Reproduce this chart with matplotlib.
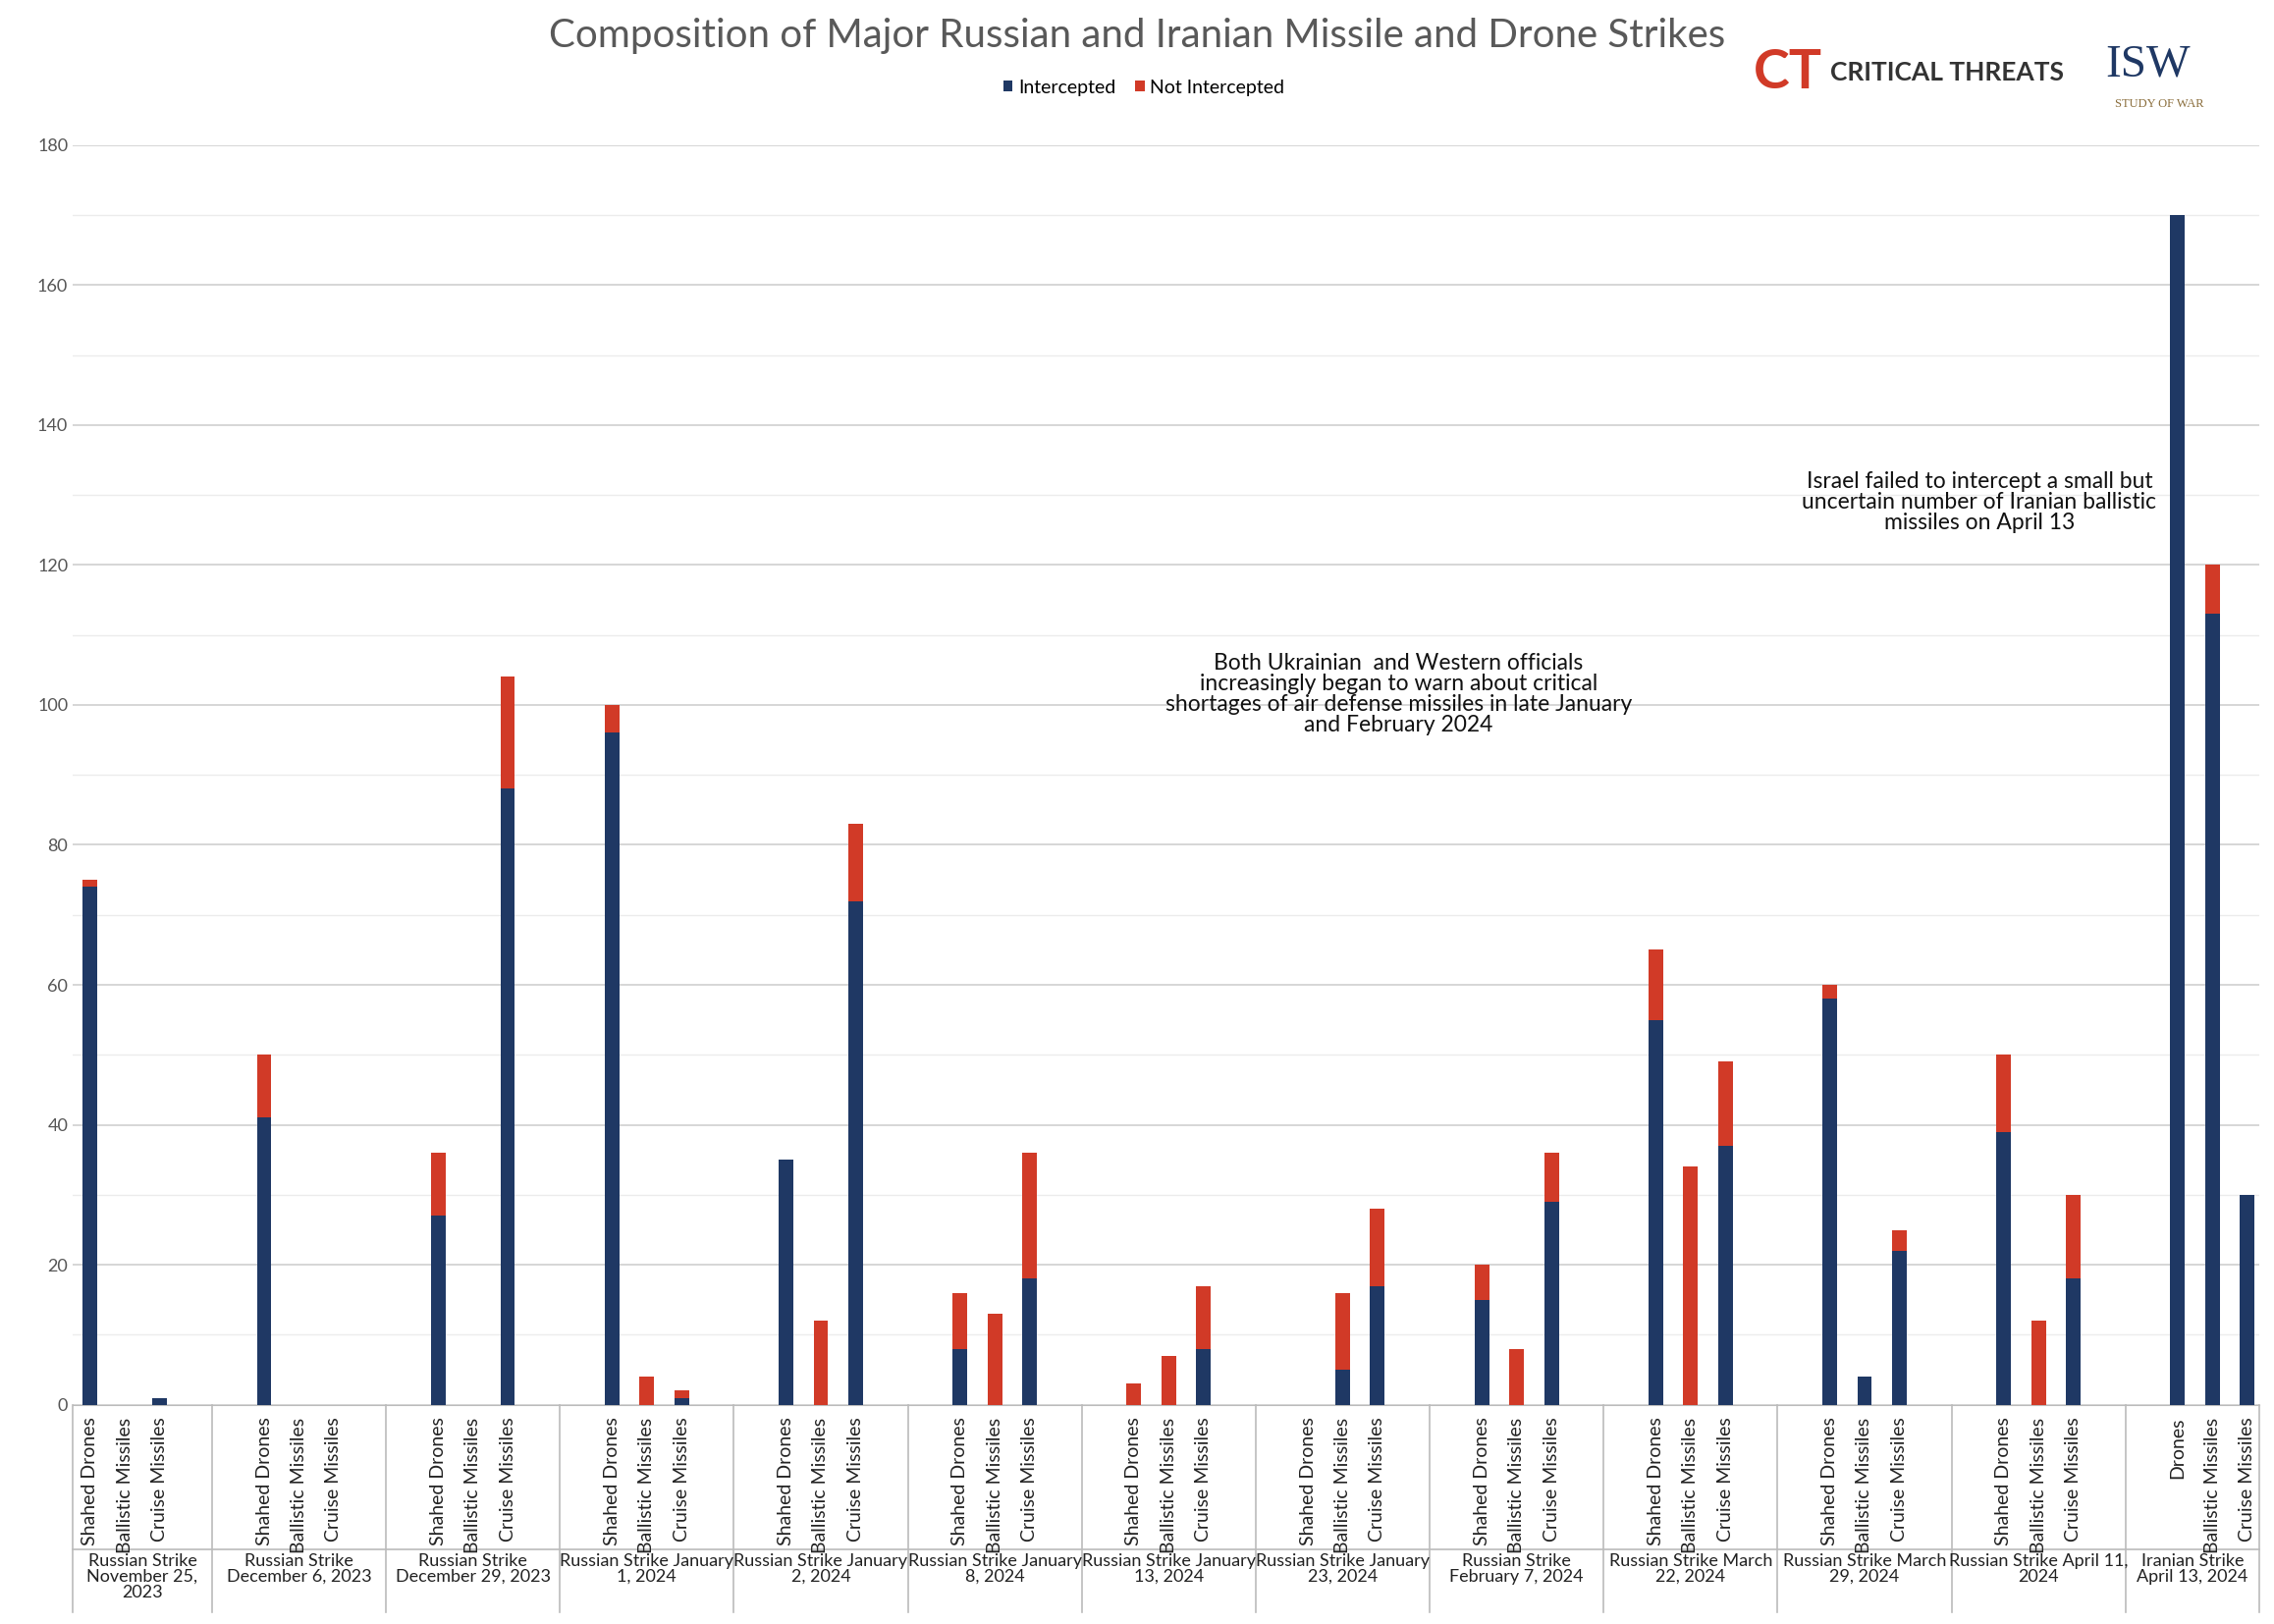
import matplotlib
matplotlib.use("Agg")
import matplotlib.pyplot as plt
from matplotlib.lines import Line2D

plt.rcParams["font.family"] = "Lato"

groups = ["Russian Strike\nNovember 25,\n2023", "Russian Strike\nDecember 6, 2023", "Russian Strike\nDecember 29, 2023",
          "Russian Strike January\n1, 2024", "Russian Strike January\n2, 2024", "Russian Strike January\n8, 2024",
          "Russian Strike January\n13, 2024", "Russian Strike January\n23, 2024", "Russian Strike\nFebruary 7, 2024",
          "Russian Strike March\n22, 2024", "Russian Strike March\n29, 2024", "Russian Strike April 11,\n2024",
          "Iranian Strike\nApril 13, 2024"]
weapons = ["Shahed Drones", "Ballistic Missiles", "Cruise Missiles"]
last_weapons = ["Drones", "Ballistic Missiles", "Cruise Missiles"]
intercepted = [[74, 0, 1], [41, 0, 0], [27, 0, 88], [96, 0, 1], [35, 0, 72], [8, 0, 18], [0, 0, 8],
               [0, 5, 17], [15, 0, 29], [55, 0, 37], [58, 4, 22], [39, 0, 18], [170, 113, 30]]
not_intercepted = [[1, 0, 0], [9, 0, 0], [9, 0, 16], [4, 4, 1], [0, 12, 11], [8, 13, 18], [3, 7, 9],
                   [0, 11, 11], [5, 8, 7], [10, 34, 12], [2, 0, 3], [11, 12, 12], [0, 7, 0]]

NAVY = "#1f3864"
RED = "#d13a27"

fig = plt.figure(figsize=(23.16, 16.54), dpi=100)
ax = fig.add_axes([0.032, 0.135, 0.9616, 0.7757])

xs, ints, nots, labels = [], [], [], []
for g in range(len(groups)):
    for i in range(3):
        xs.append(g * 5 + i)
        ints.append(intercepted[g][i])
        nots.append(not_intercepted[g][i])
        labels.append((last_weapons if g == len(groups) - 1 else weapons)[i])

ax.bar(xs, ints, width=0.42, color=NAVY, label="Intercepted", zorder=3)
ax.bar(xs, nots, width=0.42, bottom=ints, color=RED, label="Not Intercepted", zorder=3)

ax.set_xlim(-0.5, 62.35)
ax.set_ylim(0, 180)
ax.set_yticks(range(0, 181, 20))
ax.set_yticks(range(0, 181, 10), minor=True)
ax.grid(axis="y", which="major", color="#d0d0d0", lw=1.2, zorder=0)
ax.grid(axis="y", which="minor", color="#ececec", lw=1.0, zorder=0)
ax.tick_params(axis="y", which="both", length=0, labelsize=13, colors="#555555")
ax.set_xticks([])
for s in ["top", "right", "left"]:
    ax.spines[s].set_visible(False)
ax.spines["bottom"].set_color("#bbbbbb")

tr = ax.get_xaxis_transform()
for x, lab in zip(xs, labels):
    ax.text(x, -0.01, lab, rotation=90, ha="center", va="top", fontsize=14, transform=tr, color="#222222")
sep = [-0.5] + [g * 5 + 3.5 for g in range(12)] + [62.35]
for g, name in enumerate(groups):
    ax.text((sep[g] + sep[g + 1]) / 2, -0.118, name, ha="center", va="top", fontsize=13, transform=tr,
            color="#222222", linespacing=1.0)
for s in sep:
    ax.add_line(Line2D([s, s], [0, -0.165], transform=tr, color="#bbbbbb", lw=1.2, clip_on=False))
ax.add_line(Line2D([-0.5, 62.35], [-0.115, -0.115], transform=tr, color="#bbbbbb", lw=1.2, clip_on=False))

ax.text(37.6, 101.5, "Both Ukrainian  and Western officials\nincreasingly began to warn about critical\n"
        "shortages of air defense missiles in late January\nand February 2024",
        ha="center", va="center", fontsize=16.5, color="#111111", linespacing=1.0)
ax.text(54.3, 129, "Israel failed to intercept a small but\nuncertain number of Iranian ballistic\nmissiles on April 13",
        ha="center", va="center", fontsize=16.5, color="#111111", linespacing=1.0)

fig.text(0.50, 0.978, "Composition of Major Russian and Iranian Missile and Drone Strikes",
         ha="center", va="center", fontsize=29, color="#595959")
fig.legend(loc="center", bbox_to_anchor=(0.503, 0.946), ncol=2, frameon=False, fontsize=14,
           handlelength=0.5, handleheight=0.5, columnspacing=1.0, handletextpad=0.3)

fig.text(0.771, 0.955, "CT", ha="left", va="center", fontsize=40, color=RED, fontweight="bold")
fig.text(0.805, 0.955, "CRITICAL THREATS", ha="left", va="center", fontsize=19, color="#333333", fontweight="bold")
fig.text(0.926, 0.960, "ISW", ha="left", va="center", fontsize=34, color="#1f3864", family="Liberation Serif")
fig.text(0.930, 0.936, "STUDY OF WAR", ha="left", va="center", fontsize=9, color="#8a6d3b", family="Liberation Serif")

fig.savefig("out.png", dpi=100)
